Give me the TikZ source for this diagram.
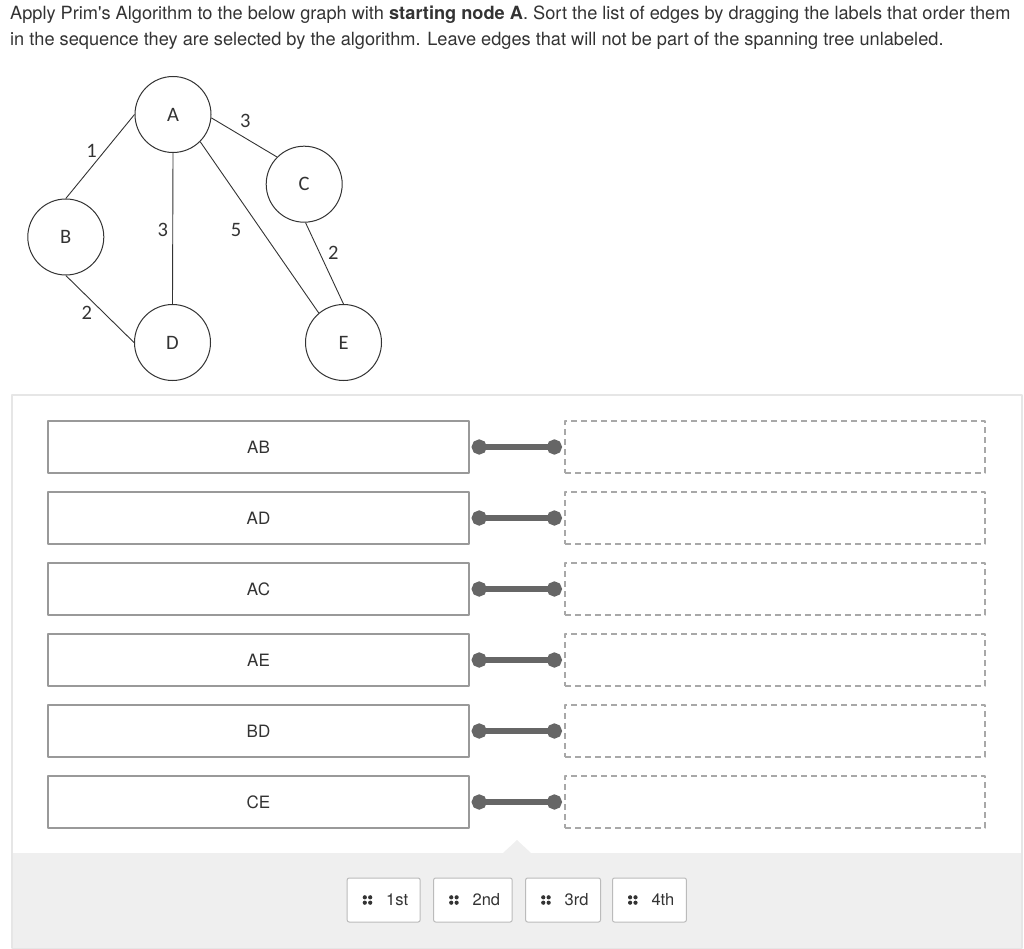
\documentclass[tikz,border=0pt]{standalone}
\usepackage{fontspec}
\setmainfont{TeX Gyre Heros}
\newfontfamily\graphfont{Carlito}
\usetikzlibrary{positioning,arrows.meta}

\definecolor{ink}{HTML}{333333}
\definecolor{boxline}{HTML}{999999}
\definecolor{dashline}{HTML}{A8A8A8}
\definecolor{barfill}{HTML}{EFEFEF}
\definecolor{panelline}{HTML}{E6E6E6}
\definecolor{linkgray}{HTML}{666666}
\definecolor{btnline}{HTML}{BBBBBB}

\begin{document}
\begin{tikzpicture}[x=1pt, y=-1pt, line join=round,
    vertex/.style={circle, draw=ink, line width=1pt, minimum size=76pt, inner sep=0pt,
        font=\graphfont\fontsize{20.5}{20.5}\selectfont, text=ink},
    weight/.style={inner sep=0pt, font=\graphfont\fontsize{20.5}{20.5}\selectfont, text=ink},
    edge/.style={draw=ink, line width=0.9pt},
    edgebox/.style={draw=boxline, line width=1.4pt, minimum width=421pt, minimum height=52pt,
        font=\fontsize{17}{17}\selectfont, text=ink},
    slotbox/.style={draw=dashline, line width=1.2pt, dash pattern=on 6pt off 4pt,
        minimum width=420pt, minimum height=52pt},
    link/.style={draw=linkgray, line width=6pt, {Circle[length=15pt]}-{Circle[length=15pt]},
        shorten <=2pt, shorten >=2.5pt},
    rankbtn/.style={draw=btnline, line width=1pt, rounded corners=2pt, fill=white,
        minimum height=44pt, inner xsep=12pt, font=\fontsize{16.5}{16.5}\selectfont, text=ink},
    question/.style={anchor=base west, inner sep=0pt, text=ink, font=\fontsize{18.2}{18.2}\selectfont},
]
    \useasboundingbox (0,0) rectangle (1024,949);

    % question text
    \node[question] (line1) at (10,20)
        {Apply Prim\textquotesingle s Algorithm to the below graph with \textbf{starting node A}. Sort the list of edges by dragging the labels that order them};
    \node[question] (line2) at (10,46)
        {in the sequence they are selected by the algorithm. Leave edges that will not be part of the spanning tree unlabeled.};

    % the graph
    \node[vertex] (A) at (173,114.5) {A};
    \node[vertex] (B) at (65.8,237) {B};
    \node[vertex] (C) at (304.2,184.2) {C};
    \node[vertex] (D) at (172.5,342.5) {D};
    \node[vertex] (E) at (343.5,342.5) {E};

    \draw[edge] (A.west) -- (B.north);
    \draw[edge] (A.-5) -- (C.135);
    \draw[edge] (A.south) -- (D.north);
    \draw[edge] (A.-45) -- (E.130);
    \draw[edge] (C.-88) -- (E.north);
    \draw[edge] (B.south) -- (D.west);

    \node[weight] (wAB) at (91.5,151) {1};
    \node[weight] (wAC) at (245.3,120.8) {3};
    \node[weight] (wAD) at (162.8,229.7) {3};
    \node[weight] (wAE) at (236,230) {5};
    \node[weight] (wCE) at (333.3,253) {2};
    \node[weight] (wBD) at (86.7,313) {2};

    % answer panel
    \draw[panelline, line width=1.5pt] (12,395) rectangle (1022,948);
    \fill[barfill] (12.75,853) rectangle (1021.25,948);
    \fill[barfill] (503,853) -- (517,840) -- (531,853) -- cycle;

    \foreach \e [count=\i] in {AB,AD,AC,AE,BD,CE} {
        \pgfmathsetmacro{\rowy}{447+71*(\i-1)}
        \node[edgebox] (e\i) at (258.5,\rowy) {\e};
        \node[slotbox] (s\i) at (775,\rowy) {};
        \draw[link] (e\i) -- (s\i);
    }

    % rank labels
    \node[rankbtn, anchor=west] (b1) at (346.7,900) {\hspace{27pt}1st};
    \node[rankbtn, right=12.5pt of b1] (b2) {\hspace{27pt}2nd};
    \node[rankbtn, right=12.5pt of b2] (b3) {\hspace{27pt}3rd};
    \node[rankbtn, right=11pt of b3] (b4) {\hspace{27pt}4th};

    \foreach \b in {b1,b2,b3,b4}
        \foreach \dx/\dy in {-2.7/-2.7, 2.7/-2.7, -2.7/2.7, 2.7/2.7}
            \fill[ink] ([shift={(20.8+\dx,\dy)}]\b.west) circle (2.1);
\end{tikzpicture}
\end{document}
